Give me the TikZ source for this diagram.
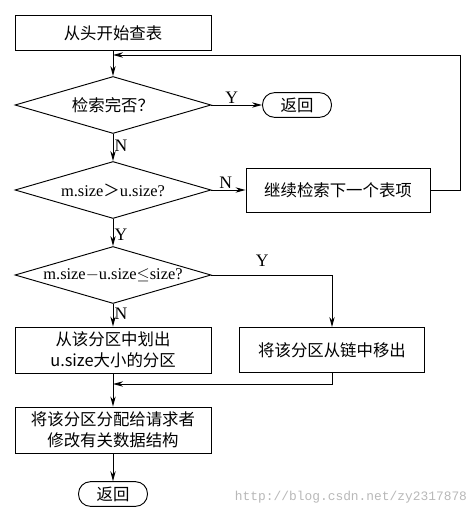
\documentclass[tikz,border=0pt]{standalone}
\usepackage{fontspec}
\setmainfont{Liberation Serif}
\setmonofont{Liberation Mono}
\newfontfamily\cjk{Noto Sans CJK SC}
\usepackage{tikz}
\usetikzlibrary{positioning,arrows.meta,shapes.geometric,calc}

\begin{document}
\begin{tikzpicture}[
  x=0.03cm,y=-0.03cm,
  box/.style={draw,line width=0.8pt,minimum width=5.88cm,minimum height=1.38cm,
              align=center,inner sep=2pt,font=\fontsize{14}{18}\selectfont\cjk},
  decision/.style={draw,line width=0.8pt,diamond,aspect=3.4,inner sep=0pt,
                   minimum width=5.88cm,minimum height=1.71cm,
                   font=\fontsize{14}{16}\selectfont},
  term/.style={draw,line width=0.8pt,rounded corners=0.36cm,minimum width=2.07cm,
               minimum height=0.74cm,inner sep=1pt,font=\fontsize{14}{16}\selectfont\cjk},
  flow/.style={-{Stealth[length=3mm,width=1.6mm]},line width=0.8pt},
  lab/.style={font=\fontsize{15}{17}\selectfont,inner sep=1pt}
]
\useasboundingbox (0,0) rectangle (474,515);

% main column
\node[box,minimum height=1.05cm] (start) at (113,33) {从头开始查表};
\node[decision] (done) at (113,105) {{\cjk 检索完否？}};
\node[term] (ret1) at (297,105) {返回};
\node[decision] (bigger) at (113,190) {m.size{\cjk ＞}u.size?};
\node[box,minimum width=5.52cm,minimum height=1.32cm] (next) at (338,190) {继续检索下一个表项};
\node[decision] (small) at (113,275) {m.size$-$u.size$\leq$size?};
\node[box] (split) at (113,350) {从该分区中划出\\u.size{\cjk 大小的分区}};
\node[box,minimum width=5.55cm,minimum height=1.35cm] (remove) at (332,350) {将该分区从链中移出};
\node[box] (alloc) at (113,430) {将该分区分配给请求者\\修改有关数据结构};
\node[term] (ret2) at (113,494) {返回};

\coordinate (loop) at (113,55);
\coordinate (merge) at (113,384);

\draw[flow] (start) -- (done);
\draw[flow] (done) -- node[lab,above,pos=0.4] {Y} (ret1);
\draw[flow] (done) -- node[lab,right,pos=0.45] {N} (bigger);
\draw[flow] (bigger) -- node[lab,above left,pos=0.65] {N} (next);
\draw[flow] (next.east) -- ++(30,0) |- (loop);
\draw[flow] (bigger) -- node[lab,right,pos=0.6] {Y} (small);
\draw[flow] (small.east) -| node[lab,above,pos=0.21,yshift=6pt] {Y} (remove.north);
\draw[flow] (small) -- node[lab,right,pos=0.45] {N} (split);
\draw[flow] (remove.south) |- (merge);
\draw[flow] (split) -- (alloc);
\draw[flow] (alloc) -- (ret2);

% watermark
\node[font=\fontsize{11}{13}\selectfont\ttfamily,text=black!28] (mark) at (351,497)
  {http://blog.csdn.net/zy2317878};
\end{tikzpicture}
\end{document}
